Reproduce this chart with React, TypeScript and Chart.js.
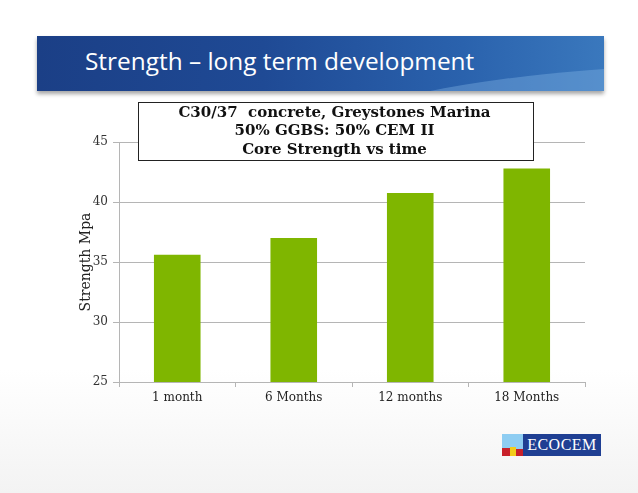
import React, { useEffect, useRef } from "react";
import { Chart, registerables } from "chart.js";

Chart.register(...registerables);

const categories = ["1 month", "6 Months", "12 months", "18 Months"];
const strength = [35.6, 37.0, 40.75, 42.8];
const yMin = 25;
const yMax = 45;
const yStep = 5;
const titleLines = ["C30/37  concrete, Greystones Marina", "50% GGBS: 50% CEM II", "Core Strength vs time"];
const yAxisTitle = "Strength Mpa";
const slideTitle = "Strength \u2013 long term development";
const logoText = "ECOCEM";

const SERIF = "'DejaVu Serif', 'Liberation Serif', serif";

const titleBoxPlugin = {
  id: "titleBox",
  afterDraw(chart: any) {
    const ctx = chart.ctx;
    ctx.save();
    const x = 138, y = 102, w = 395, h = 58;
    ctx.fillStyle = "#ffffff";
    ctx.fillRect(x, y, w, h);
    ctx.strokeStyle = "#222222";
    ctx.lineWidth = 1;
    ctx.strokeRect(x + 0.5, y + 0.5, w, h);
    ctx.fillStyle = "#111111";
    ctx.font = "bold 15px " + SERIF;
    ctx.textAlign = "center";
    ctx.textBaseline = "middle";
    const cx = x + w / 2 - 1;
    titleLines.forEach((line, i) => {
      ctx.fillText(line, cx, 113 + i * 18.5);
    });
    ctx.restore();
  },
};

export default function App() {
  const canvasRef = useRef<HTMLCanvasElement | null>(null);

  useEffect(() => {
    document.body.style.margin = "0";
    const canvas = canvasRef.current;
    if (!canvas) return;
    const chart = new Chart(canvas, {
      type: "bar",
      data: {
        labels: categories,
        datasets: [
          {
            label: yAxisTitle,
            data: strength,
            backgroundColor: "#7fb600",
            borderWidth: 0,
            barPercentage: 0.4,
            categoryPercentage: 1.0,
          },
        ],
      },
      options: {
        responsive: false,
        animation: false,
        layout: { padding: { left: 77, right: 53, top: 142, bottom: 71 } },
        plugins: {
          legend: { display: false },
          tooltip: { enabled: false },
          title: { display: false },
        },
        scales: {
          x: {
            afterFit: (s: any) => {
              s.height = 40;
            },
            grid: {
              display: true,
              offset: true,
              drawOnChartArea: false,
              drawTicks: true,
              tickLength: 5,
              color: "#b5b5b5",
            },
            border: { display: true, color: "#b5b5b5", width: 1 },
            ticks: {
              color: "#222222",
              font: { family: SERIF, size: 12 },
              padding: 4,
            },
          },
          y: {
            min: yMin,
            max: yMax,
            afterFit: (s: any) => {
              s.width = 42;
            },
            ticks: {
              stepSize: yStep,
              color: "#333333",
              font: { family: SERIF, size: 12 },
              padding: 5,
            },
            grid: {
              color: "#b5b5b5",
              tickLength: 6,
              drawTicks: true,
            },
            border: { display: true, color: "#b5b5b5", width: 1 },
            title: {
              display: true,
              text: yAxisTitle,
              color: "#222222",
              font: { family: SERIF, size: 14 },
              padding: { top: 1, bottom: 0 },
            },
          },
        },
      },
      plugins: [titleBoxPlugin],
    });
    return () => chart.destroy();
  }, []);

  return (
    <div
      style={{
        position: "fixed",
        left: 0,
        top: 0,
        width: 638,
        height: 493,
        overflow: "hidden",
        background: "linear-gradient(to bottom, #ffffff 0%, #ffffff 75%, #f3f3f3 100%)",
      }}
    >
      <div
        style={{
          position: "absolute",
          left: 37,
          top: 36,
          width: 567,
          height: 55,
          background:
            "linear-gradient(to right, #1b3f86 0%, #1f4a95 40%, #2a62ad 75%, #3a78bd 100%)",
          boxShadow: "0 3px 4px rgba(0,0,0,0.35)",
          overflow: "hidden",
        }}
      >
        <div
          style={{
            position: "absolute",
            left: 300,
            top: 38,
            width: 420,
            height: 60,
            borderRadius: "50%",
            background: "rgba(140,190,235,0.35)",
            transform: "rotate(-6deg)",
          }}
        />
        <div
          style={{
            position: "absolute",
            left: 48,
            top: 11,
            color: "#ffffff",
            fontFamily: "'Open Sans', 'Liberation Sans', sans-serif",
            fontSize: 24.4,
            lineHeight: "28px",
            whiteSpace: "nowrap",
          }}
        >
          {slideTitle}
        </div>
      </div>
      <canvas
        ref={canvasRef}
        width={638}
        height={493}
        style={{ position: "absolute", left: 0, top: 0, width: 638, height: 493 }}
      />
      <div
        style={{
          position: "absolute",
          left: 502,
          top: 434,
          width: 99,
          height: 22,
          background: "#1f3f93",
          display: "flex",
          alignItems: "center",
        }}
      >
        <div style={{ position: "relative", width: 21, height: 22, background: "#8ecdf2" }}>
          <div style={{ position: "absolute", left: 0, bottom: 0, width: 8, height: 8, background: "#c8202a" }} />
          <div style={{ position: "absolute", left: 8, bottom: 0, width: 6, height: 9, background: "#f2cc1a" }} />
          <div style={{ position: "absolute", left: 14, bottom: 0, width: 7, height: 7, background: "#c8202a" }} />
        </div>
        <div
          style={{
            flex: 1,
            textAlign: "center",
            color: "#ffffff",
            fontFamily: "'Liberation Serif', serif",
            fontSize: 16,
            letterSpacing: 0.5,
          }}
        >
          {logoText}
        </div>
      </div>
    </div>
  );
}
